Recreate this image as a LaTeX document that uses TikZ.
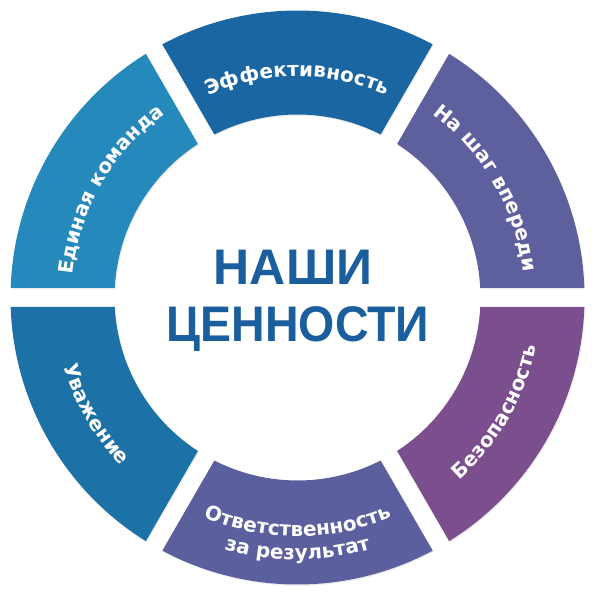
\documentclass[tikz,border=0pt]{standalone}
\usepackage{fontspec}
\setmainfont{DejaVu Sans}
\newfontfamily\titfont{Liberation Sans}
\usetikzlibrary{decorations.text}
\definecolor{cTop}{HTML}{1A66A3}
\definecolor{cUR}{HTML}{5E5F9D}
\definecolor{cLR}{HTML}{7B4E8D}
\definecolor{cBot}{HTML}{5B5F9D}
\definecolor{cLL}{HTML}{1C71A7}
\definecolor{cUL}{HTML}{2589BB}
\definecolor{cTitle}{HTML}{1B5E9E}
\newcommand\labf{\fontsize{20}{24}\selectfont\bfseries\color{white}}
\tikzset{
  segtext/.style={decorate, decoration={text along path, text align=center, text={|\labf|#1}}},
  titlestyle/.style={font=\titfont\bfseries\fontsize{50}{56}\selectfont, text=cTitle, inner sep=0pt, anchor=base}
}
\begin{document}
\begin{tikzpicture}[x=1pt,y=1pt]
\useasboundingbox (0,0) rectangle (600,596);
\fill[white] (0,0) rectangle (600,596);
\begin{scope}[shift={(297.5,298.5)}]
  \foreach \t/\c in {90/cTop,30/cUR,-30/cLR,-90/cBot,210/cLL,150/cUL}{
    \fill[black!40, opacity=0.18, shift={(0.8,-1.2)}]
      ({\t-30+1.897}:287pt) arc[start angle={\t-30+1.897}, end angle={\t+30-1.897}, radius=287pt]
      -- ({\t+30-2.976}:183pt) arc[start angle={\t+30-2.976}, end angle={\t-30+2.976}, radius=183pt] -- cycle;
    \fill[\c]
      ({\t-30+1.897}:287pt) arc[start angle={\t-30+1.897}, end angle={\t+30-1.897}, radius=287pt]
      -- ({\t+30-2.976}:183pt) arc[start angle={\t+30-2.976}, end angle={\t-30+2.976}, radius=183pt] -- cycle;
  }
  % upper half: clockwise, tops outward
  \path[segtext={Эффективность}] (130:221pt) arc[start angle=130, end angle=50, radius=221pt];
  \path[segtext={На шаг впереди}] (60:227pt) arc[start angle=60, end angle=0, radius=227pt];
  \path[segtext={Единая команда}] (180:226pt) arc[start angle=180, end angle=120, radius=226pt];
  % lower half: counterclockwise, tops inward
  \path[segtext={Уважение}] (180:244pt) arc[start angle=180, end angle=240, radius=244pt];
  \path[segtext={Безопасность}] (-60:244pt) arc[start angle=-60, end angle=0, radius=244pt];
  \path[segtext={Ответственность}] (-135:239pt) arc[start angle=-135, end angle=-45, radius=239pt];
  \path[segtext={за результат}] (-130:262pt) arc[start angle=-130, end angle=-50, radius=262pt];
\end{scope}
\node[titlestyle] (t1) at (293,311) {НАШИ};
\node[titlestyle] (t2) at (298,254) {\scalebox{0.93}[1]{ЦЕННОСТИ}};
\end{tikzpicture}
\end{document}
